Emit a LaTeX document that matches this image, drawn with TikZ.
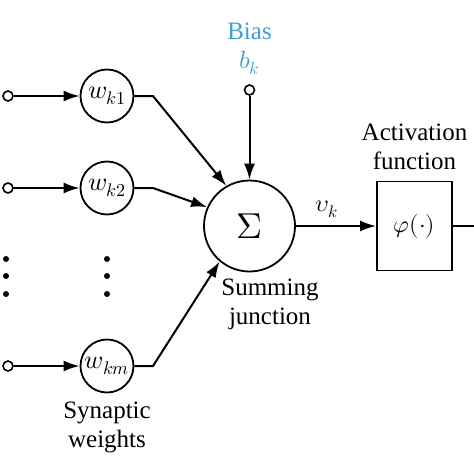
\documentclass[tikz,border=0pt]{standalone}
\usepackage{fontspec}
\usepackage{unicode-math}
\setmainfont{Liberation Serif}
\setmathfont{Latin Modern Math}
\usetikzlibrary{arrows.meta}
\definecolor{biasblue}{RGB}{60,160,215}
\tikzset{
  wcirc/.style={draw, circle, line width=1.8pt, minimum size=53pt, inner sep=0pt, font=\fontsize{26}{29}\selectfont},
  incirc/.style={draw, circle, line width=1.6pt, minimum size=10pt, inner sep=0pt, fill=white},
  arr/.style={line width=2pt, -{Latex[length=16pt,width=11pt]}},
  ln/.style={line width=2pt},
  lbl/.style={align=center, inner sep=0pt, font=\fontsize{25}{29}\selectfont},
}
\begin{document}
\begin{tikzpicture}[x=1pt,y=-1pt]
  \useasboundingbox (0,0) rectangle (474,474);
  \draw (8,96) node[incirc] (x1) {};
  \draw (8,188) node[incirc] (x2) {};
  \draw (8,366) node[incirc] (xm) {};
  \draw (107,96) node[wcirc] (w1) {$w_{k1}$};
  \draw (107,188) node[wcirc] (w2) {$w_{k2}$};
  \draw (107,366) node[wcirc] (wm) {$w_{km}$};
  \foreach \x in {6,107} {
    \foreach \y in {259,276,294} \fill (\x,\y) circle (3pt);
  }
  \draw (249.5,226) node[draw, circle, line width=1.8pt, minimum size=91pt, inner sep=0pt,
    font=\fontsize{36}{40}\selectfont] (sum) {$\Sigma$};
  \draw (249.5,90) node[incirc] (b) {};
  \draw (249.5,49) node[lbl, text=biasblue] (bias) {Bias\\$b_k$};
  \draw (414.5,226) node[draw, line width=1.8pt, minimum width=75pt, minimum height=89pt,
    inner sep=0pt, font=\fontsize{24}{29}\selectfont] (phi) {$\varphi(\cdot)$};
  \draw (414.5,147) node[lbl] (act) {Activation\\function};
  \draw (270,304) node[lbl] (sj) {Summing\\junction};
  \draw (107,427) node[lbl] (syn) {Synaptic\\weights};
  \coordinate (b1) at (153,96);
  \coordinate (b2) at (153,188);
  \coordinate (bm) at (153,366);
  \coordinate (out) at (474,226);
  \draw[arr] (x1) -- (w1);
  \draw[arr] (x2) -- (w2);
  \draw[arr] (xm) -- (wm);
  \draw[arr] (w1) -- (b1) -- (sum.120);
  \draw[arr] (w2) -- (b2) -- (sum.156);
  \draw[arr] (wm) -- (bm) -- (sum.230);
  \draw[arr] (b) -- (sum);
  \draw[arr] (sum) -- node[pos=0.38, above=4pt, font=\fontsize{24}{29}\selectfont] (vk) {$\upsilon_k$} (phi);
  \draw[ln] (phi) -- (out);
\end{tikzpicture}
\end{document}
